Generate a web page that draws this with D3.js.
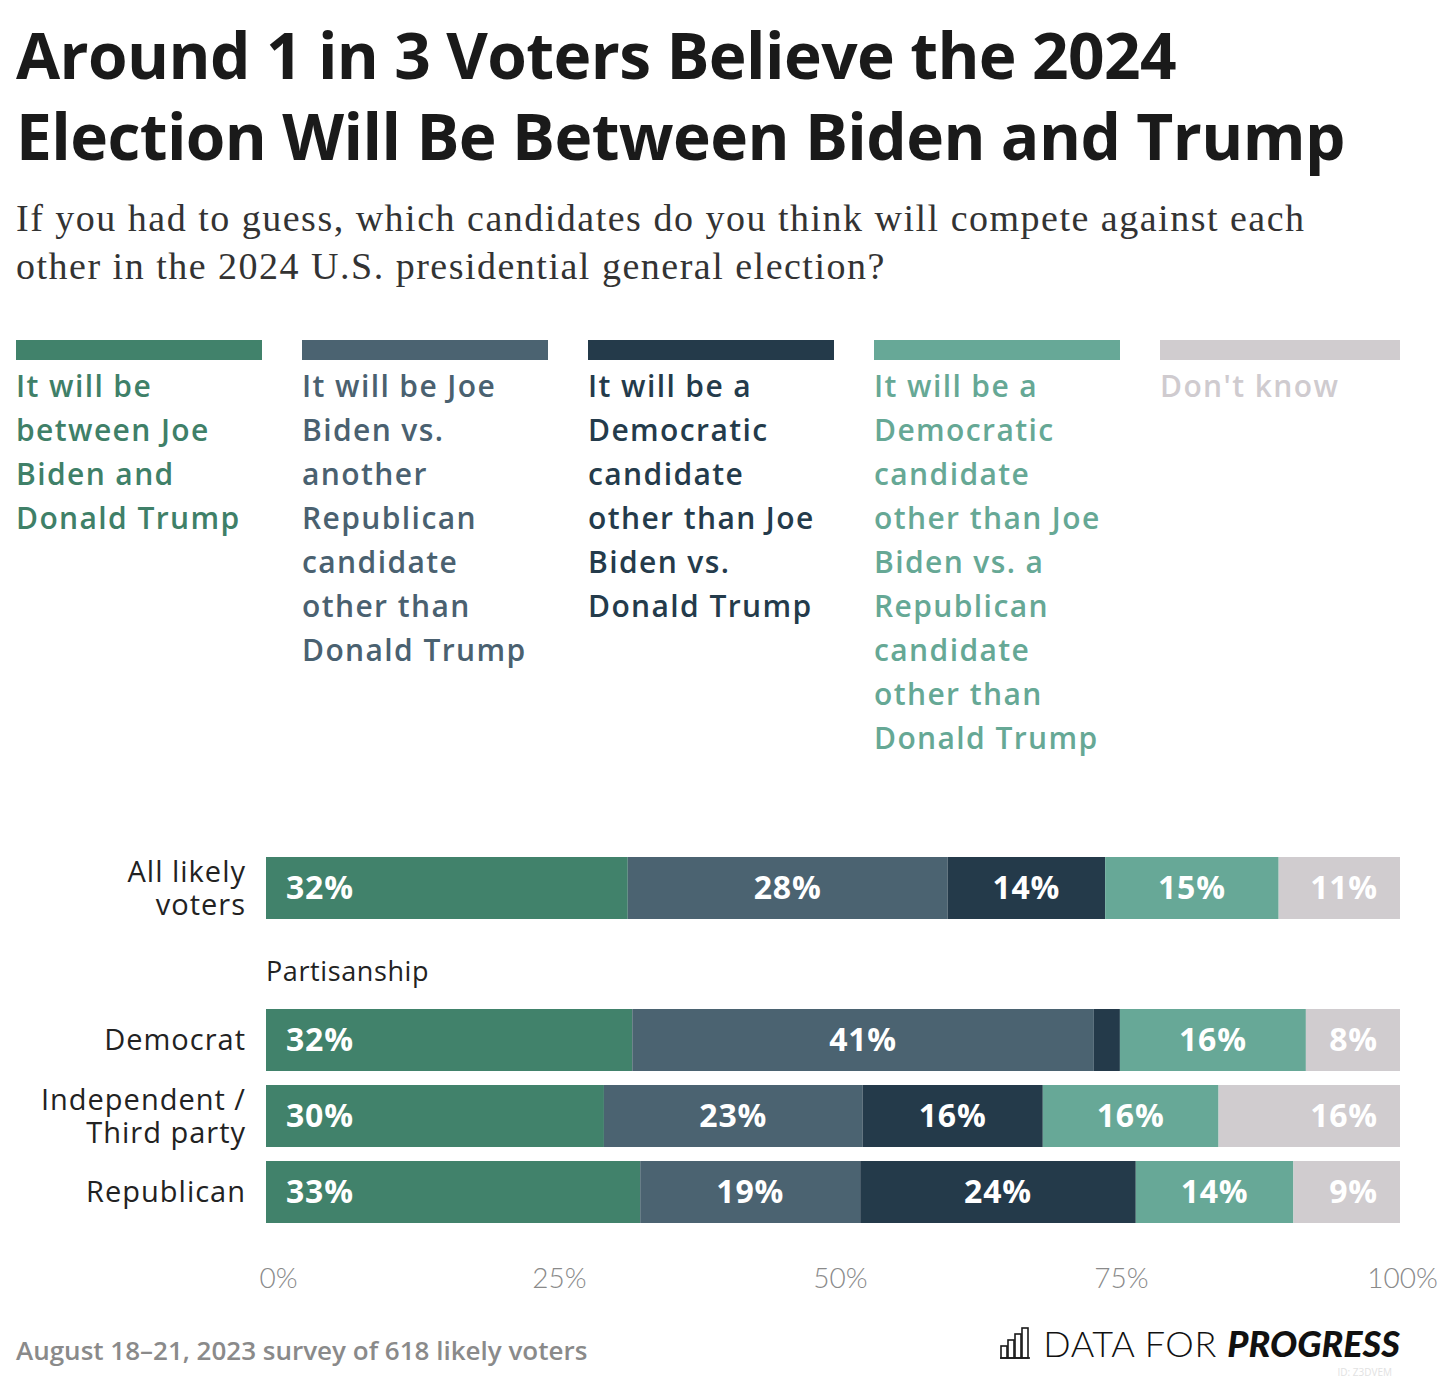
<!DOCTYPE html>
<html>
<head>
<meta charset="utf-8">
<script src="https://cdn.jsdelivr.net/npm/d3@7"></script>
<style>
  body { margin: 0; background: #fff; }
  svg { display: block; font-family: "Open Sans", Lato, sans-serif; }
</style>
</head>
<body>
<svg width="1440" height="1378"></svg>
<script>
"use strict";

// chart data
const groups = ["All likely voters", "Democrat", "Independent / Third party", "Republican"];
const groupLines = [["All likely", "voters"], ["Democrat"], ["Independent /", "Third party"], ["Republican"]];
const series = [
  "It will be between Joe Biden and Donald Trump",
  "It will be Joe Biden vs. another Republican candidate other than Donald Trump",
  "It will be a Democratic candidate other than Joe Biden vs. Donald Trump",
  "It will be a Democratic candidate other than Joe Biden vs. a Republican candidate other than Donald Trump",
  "Don't know"
];
const seriesLines = [
  ["It will be", "between Joe", "Biden and", "Donald Trump"],
  ["It will be Joe", "Biden vs.", "another", "Republican", "candidate", "other than", "Donald Trump"],
  ["It will be a", "Democratic", "candidate", "other than Joe", "Biden vs.", "Donald Trump"],
  ["It will be a", "Democratic", "candidate", "other than Joe", "Biden vs. a", "Republican", "candidate", "other than", "Donald Trump"],
  ["Don't know"]
];
const bidenTrump = [31.9, 32.3, 29.8, 33.0];
const bidenOtherRep = [28.2, 40.7, 22.8, 19.4];
const otherDemTrump = [13.9, 2.3, 15.9, 24.3];
const otherDemOtherRep = [15.3, 16.4, 15.5, 13.9];
const dontKnow = [10.7, 8.3, 16.0, 9.4];
const tickValues = [0, 25, 50, 75, 100];

const barColors = ["#41826b", "#4b6371", "#243a4a", "#67a897", "#d0cccf"];
const legendTextColors = ["#3f8068", "#4a6170", "#243b4b", "#66a895", "#cfcbcf"];

const svg = d3.select("svg");

/////////////////////////////////////////////////////
// header
/////////////////////////////////////////////////////
const title = svg.append("text")
  .attr("x", 16)
  .attr("font-size", 64)
  .attr("font-weight", 700)
  .attr("letter-spacing", -0.6)
  .attr("fill", "#1a1a1a");
["Around 1 in 3 Voters Believe the 2024", "Election Will Be Between Biden and Trump"].forEach((t, i) => {
  title.append("tspan").attr("x", 16).attr("y", 79 + i * 81).text(t);
});

const sub = svg.append("text")
  .attr("font-family", "'Liberation Serif', serif")
  .attr("font-size", 38)
  .attr("letter-spacing", 1.5)
  .attr("fill", "#333");
["If you had to guess, which candidates do you think will compete against each",
 "other in the 2024 U.S. presidential general election?"].forEach((t, i) => {
  sub.append("tspan").attr("x", 16).attr("y", 231 + i * 48).text(t);
});

/////////////////////////////////////////////////////
// legend
/////////////////////////////////////////////////////
const legend = svg.append("g").attr("class", "legend");
series.forEach((s, i) => {
  const g = legend.append("g").attr("transform", `translate(${16 + i * 286},340)`);
  g.append("rect")
    .attr("width", i === 4 ? 240 : 246)
    .attr("height", 20)
    .attr("fill", barColors[i]);
  const t = g.append("text")
    .attr("font-size", 30)
    .attr("font-weight", 600)
    .attr("letter-spacing", 1.4)
    .attr("fill", legendTextColors[i]);
  seriesLines[i].forEach((line, j) => {
    t.append("tspan").attr("x", 0).attr("y", 57 + j * 44).text(line);
  });
});

/////////////////////////////////////////////////////
// bars
/////////////////////////////////////////////////////
const rows = groups.map((g, i) => {
  const vals = [bidenTrump[i], bidenOtherRep[i], otherDemTrump[i], otherDemOtherRep[i], dontKnow[i]];
  const row = { group: g };
  series.forEach((s, k) => (row[s] = vals[k]));
  return row;
});

const stacked = d3.stack().keys(series)(rows);

const x = d3.scaleLinear().domain([0, 100]).range([266, 1400]);
const y = d3.scaleBand()
  .domain([groups[0], "Partisanship", groups[1], groups[2], groups[3]])
  .range([857, 857 + 5 * 76 - 14])
  .paddingInner(14 / 76)
  .paddingOuter(0);

const layers = svg.append("g")
  .selectAll("g")
  .data(stacked)
  .enter()
  .append("g")
  .attr("fill", (d, i) => barColors[i]);

layers.selectAll("rect")
  .data((d) => d)
  .enter()
  .append("rect")
  .attr("x", (d) => x(d[0]))
  .attr("y", (d) => y(d.data.group))
  .attr("width", (d) => x(d[1]) - x(d[0]))
  .attr("height", y.bandwidth());

// value labels: first left, last right, the rest centered
layers.each(function (layer, li) {
  d3.select(this)
    .selectAll("text")
    .data(layer.filter((d) => d[1] - d[0] >= 5))
    .enter()
    .append("text")
    .attr("x", (d) => (li === 0 ? x(d[0]) + 20 : li === 4 ? x(d[1]) - 22 : (x(d[0]) + x(d[1])) / 2))
    .attr("y", (d) => y(d.data.group) + y.bandwidth() / 2 + 11)
    .attr("text-anchor", li === 0 ? "start" : li === 4 ? "end" : "middle")
    .attr("font-size", 32)
    .attr("font-weight", 700)
    .attr("letter-spacing", 0.8)
    .attr("fill", "#fff")
    .text((d) => Math.round(d[1] - d[0]) + "%");
});

// row labels
groups.forEach((g, i) => {
  const lines = groupLines[i];
  const cy = y(g) + y.bandwidth() / 2;
  const t = svg.append("text")
    .attr("text-anchor", "end")
    .attr("font-size", 29)
    .attr("letter-spacing", 1)
    .attr("fill", "#222");
  lines.forEach((line, j) => {
    t.append("tspan")
      .attr("x", 246)
      .attr("y", cy + 10 + (j - (lines.length - 1) / 2) * 33)
      .text(line);
  });
});

svg.append("text")
  .attr("x", x(0))
  .attr("y", y("Partisanship") + y.bandwidth() / 2 + 17)
  .attr("font-size", 27)
  .attr("letter-spacing", 0.6)
  .attr("fill", "#222")
  .text("Partisanship");

/////////////////////////////////////////////////////
// axis (labels sit slightly right of their values)
/////////////////////////////////////////////////////
const xLabel = d3.scaleLinear().domain([0, 100]).range([278, 1402]);
const axis = svg.append("g")
  .attr("transform", "translate(0,1260)")
  .call(d3.axisBottom(xLabel).tickValues(tickValues).tickSize(0).tickFormat((d) => d + "%"));
axis.select(".domain").remove();
axis.selectAll("text")
  .attr("font-family", "Lato, sans-serif")
  .attr("font-size", 28)
  .attr("font-weight", 300)
  .attr("fill", "#8a8a8a")
  .attr("dy", 0)
  .attr("y", 28);

/////////////////////////////////////////////////////
// footer
/////////////////////////////////////////////////////
svg.append("text")
  .attr("x", 16)
  .attr("y", 1360)
  .attr("font-size", 26)
  .attr("font-weight", 600)
  .attr("fill", "#8a8a8a")
  .text("August 18–21, 2023 survey of 618 likely voters");

const logo = svg.append("g").attr("transform", "translate(1000,1328)");
[[1, 18, 12], [8, 12, 18], [15, 6, 24], [22, 0, 30]].forEach(([bx, by, bh]) => {
  logo.append("rect")
    .attr("x", bx)
    .attr("y", by)
    .attr("width", 6)
    .attr("height", bh)
    .attr("fill", "none")
    .attr("stroke", "#1a1a1a")
    .attr("stroke-width", 1.6);
});
logo.append("line")
  .attr("x1", 0).attr("x2", 30).attr("y1", 30).attr("y2", 30)
  .attr("stroke", "#1a1a1a").attr("stroke-width", 1.6);

const brand = svg.append("text")
  .attr("x", 1400)
  .attr("y", 1357)
  .attr("text-anchor", "end")
  .attr("font-family", "Lato, sans-serif")
  .attr("font-size", 36)
  .attr("fill", "#111");
brand.append("tspan").attr("font-weight", 300).attr("letter-spacing", 0.6).text("DATA FOR ");
brand.append("tspan").attr("font-weight", 900).attr("font-style", "italic").text("PROGRESS");

svg.append("text")
  .attr("x", 1392)
  .attr("y", 1376)
  .attr("text-anchor", "end")
  .attr("font-size", 10)
  .attr("fill", "#e2e2e2")
  .text("ID: Z3DVEM");
</script>
</body>
</html>
